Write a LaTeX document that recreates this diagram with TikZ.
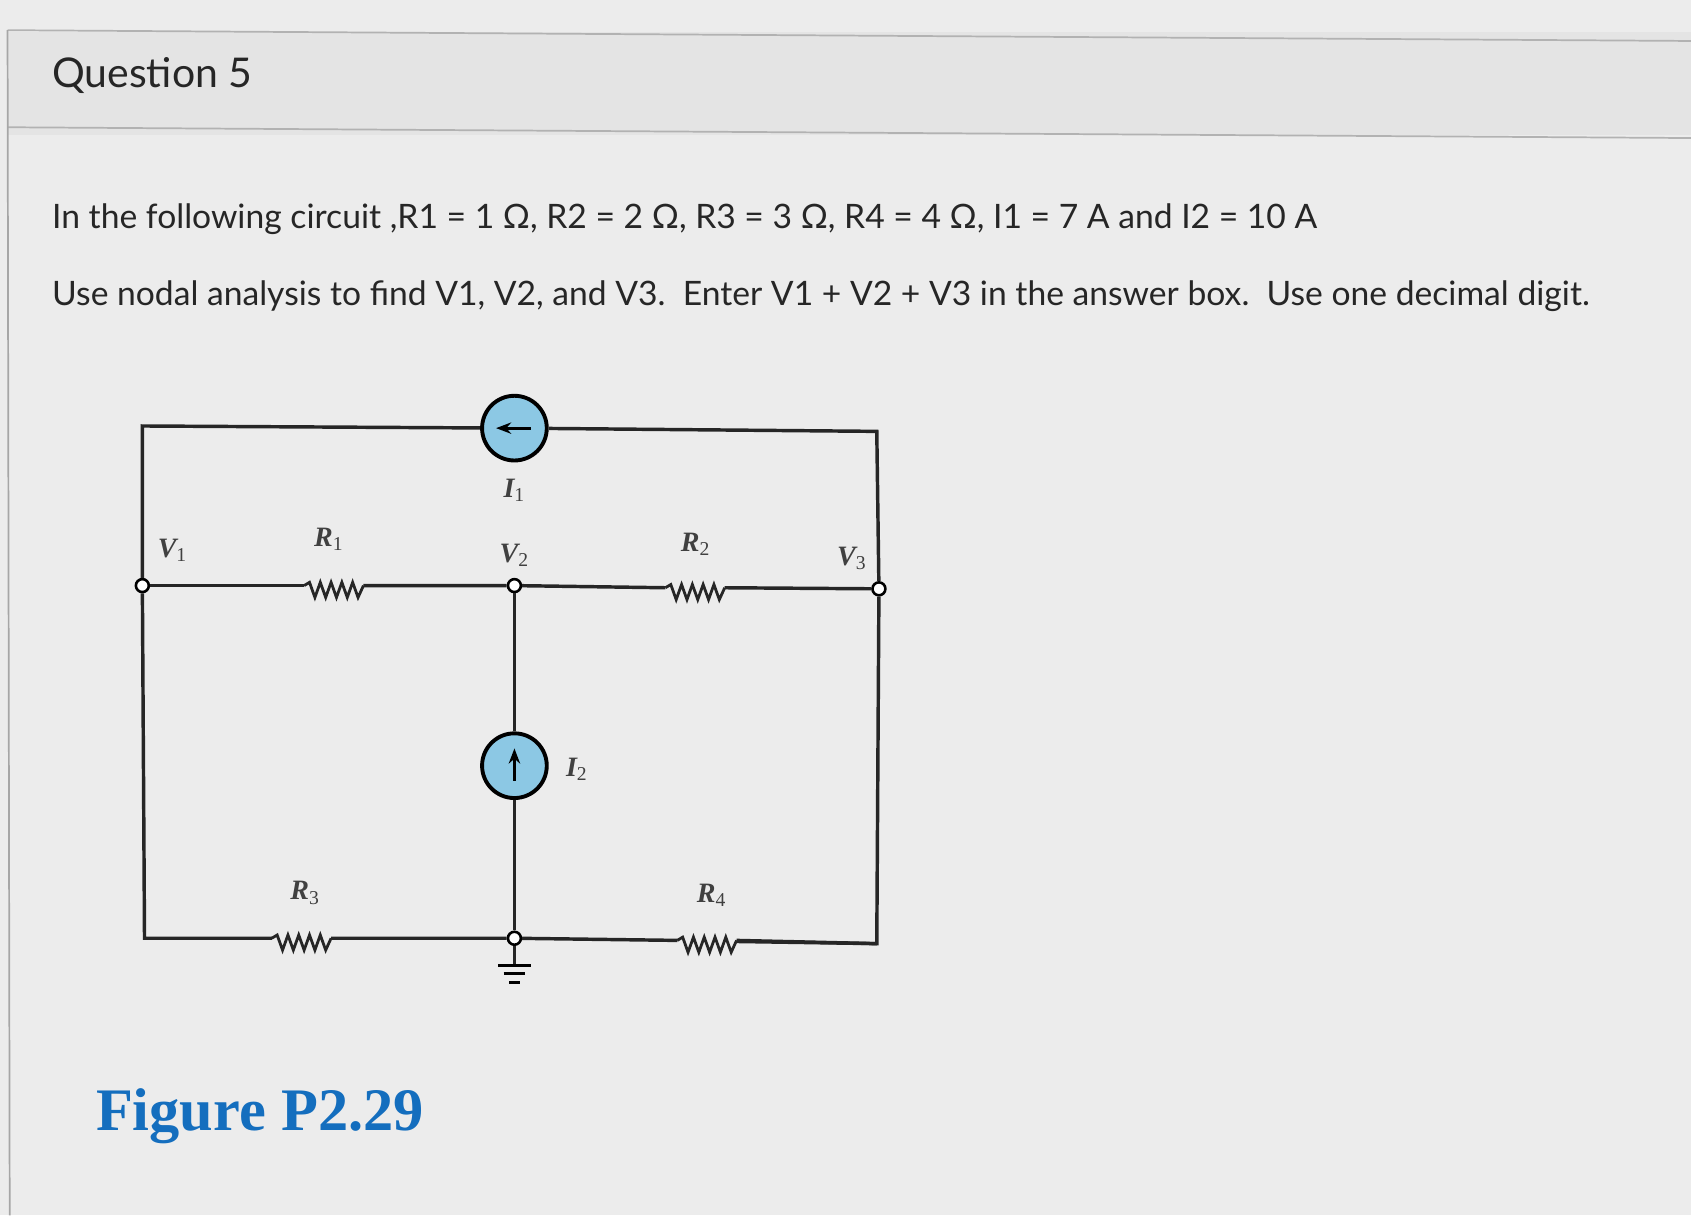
\documentclass[tikz,border=0pt]{standalone}
\usepackage{fontspec}
\setmainfont{Liberation Serif}
\newfontfamily\bodyfont{Lato}
\usetikzlibrary{arrows.meta}
\definecolor{bg}{RGB}{236,236,236}
\definecolor{hdr}{RGB}{228,228,228}
\definecolor{src}{RGB}{140,200,228}
\definecolor{figblue}{RGB}{20,110,190}
\tikzset{
 wire/.style={line width=1.6pt,black!85},
 term/.style={circle,draw,line width=1.2pt,fill=white,inner sep=0pt,minimum size=6pt},
 srcbox/.style={circle,draw,line width=1.8pt,fill=src,minimum size=30pt,inner sep=0pt},
 lab/.style={font=\fontsize{13}{15}\selectfont\bfseries\itshape,text=black!75},
 body/.style={font=\bodyfont\fontsize{15.6}{18}\selectfont,text=black!85,anchor=west,inner sep=0pt},
}
\newcommand{\sub}[1]{\textsubscript{\upshape\mdseries #1}}
\newcommand{\resz}[2]{%
 \draw[wire,line width=1.3pt] (#1,#2) -- ++(5,-3) -- ++(5,14) -- ++(5,-14) -- ++(5,14) -- ++(5,-14) -- ++(5,14) -- ++(5,-14) -- ++(5,14) -- ++(5,-14) -- ++(5,14) -- ++(5,-11);}
\begin{document}
\begin{tikzpicture}[x=0.5pt,y=-0.5pt]
\useasboundingbox (0,0) rectangle (1568,1127);
\fill[bg] (0,0) rectangle (1568,1127);
\fill[hdr] (7,30) rectangle (1568,125);
\draw[black!30,line width=0.8pt] (7,28) -- (1568,38);
\draw[black!30,line width=0.8pt] (7,118) -- (1568,128);
\draw[black!35,line width=0.8pt] (7,28) -- (9,1127);
\node[body,font=\bodyfont\fontsize{19}{22}\selectfont] (q) at (48,70) {Question 5};
\node[body] (t1) at (48,203) {In the following circuit ,R1 = 1 Ω, R2 = 2 Ω, R3 = 3 Ω, R4 = 4 Ω, I1 = 7 A and I2 = 10 A};
\node[body] (t2) at (48,275) {Use nodal analysis to find V1, V2, and V3.\ \ Enter V1 + V2 + V3 in the answer box.\ \ Use one decimal digit.};
% circuit
\coordinate (tl) at (132,395);
\coordinate (tr) at (813,400);
\coordinate (bl) at (134,870);
\coordinate (br) at (813,875);
\node[term] (n1) at (132,543) {};
\node[term] (n2) at (477,543) {};
\node[term] (n3) at (815,546) {};
\node[term] (ng) at (477,870) {};
\node[srcbox] (s1) at (477,397) {};
\node[srcbox] (s2) at (477,710) {};
\draw[wire] (s1) -- (tl) -- (n1) -- (bl) -- (252,870);
\draw[wire] (s1) -- (tr) -- (n3) -- (br) -- (683,873);
\draw[wire] (n1) -- (282,543); \resz{282}{543}
\draw[wire] (337,543) -- (n2) -- (617,545); \resz{617}{545}
\draw[wire] (672,545) -- (n3);
\resz{252}{870}
\draw[wire] (307,870) -- (ng) -- (628,872); \resz{628}{872}
\draw[wire] (683,872) -- (br);
\draw[wire] (n2) -- (s2) -- (ng);
\draw[-{Stealth[length=7pt]},line width=1.4pt] (492,397) -- (460,397);
\draw[-{Stealth[length=7pt]},line width=1.4pt] (477,724) -- (477,694);
\draw[wire] (ng) -- (477,895);
\draw[line width=1.3pt] (462,895) -- (492,895) (467,903) -- (487,903) (472,911) -- (482,911);
\node[lab] (lv1) at (160,510) {V\sub{1}};
\node[lab] (lr1) at (305,500) {R\sub{1}};
\node[lab] (lv2) at (477,515) {V\sub{2}};
\node[lab] (lr2) at (645,505) {R\sub{2}};
\node[lab] (lv3) at (790,518) {V\sub{3}};
\node[lab] (li1) at (477,455) {I\sub{1}};
\node[lab] (li2) at (535,713) {I\sub{2}};
\node[lab] (lr3) at (283,828) {R\sub{3}};
\node[lab] (lr4) at (660,830) {R\sub{4}};
\node[font=\fontsize{28}{31}\selectfont\bfseries,text=figblue] (fig) at (241,1035) {Figure P2.29};
\end{tikzpicture}
\end{document}
